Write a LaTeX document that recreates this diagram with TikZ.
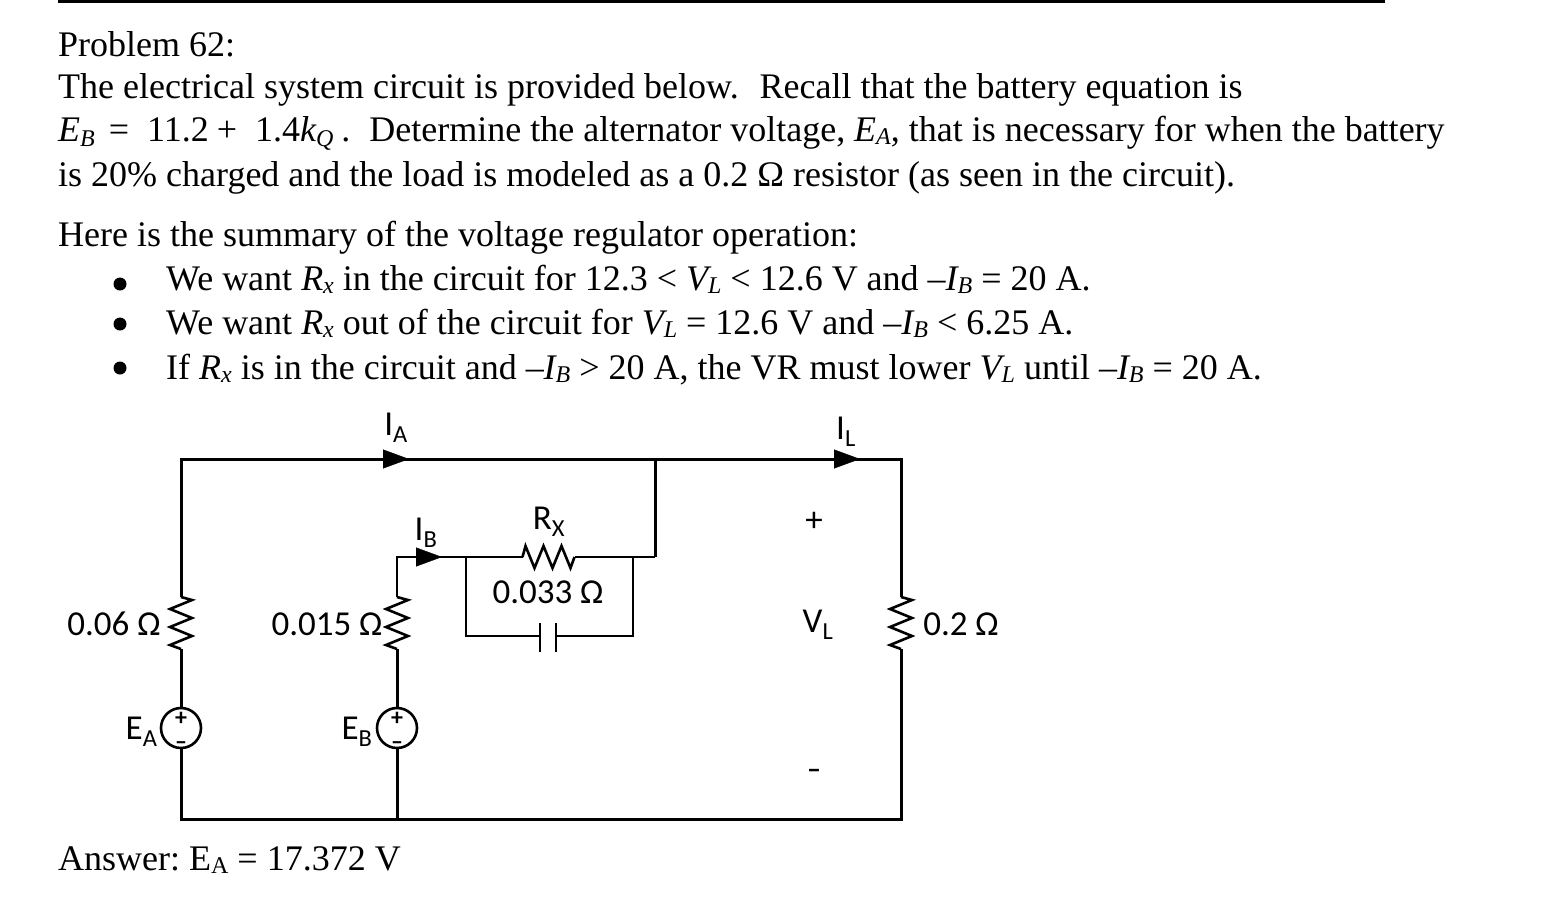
\documentclass[tikz,border=0pt]{standalone}
\usepackage{fontspec}
\setmainfont{Liberation Serif}
\newfontfamily\labelfont{Carlito}
\usetikzlibrary{arrows.meta, positioning}
\newcommand{\lowsub}[1]{\raisebox{-3pt}{\fontsize{24}{24}\selectfont #1}}
\newcommand{\RxT}{\textit{R\lowsub{x}}}
\newcommand{\VLT}{\textit{V\lowsub{L}}}
\newcommand{\IBT}{\textit{I\lowsub{B}}}
\newcommand{\EAT}{\textit{E\lowsub{A}}}

\begin{document}
\begin{tikzpicture}[
            x = 1pt, y = -1pt, % work in reference pixels
            >= {Triangle[length=26pt,width=19pt]}, % arrow head style
            node distance = 4pt,% distance between nodes
        ]
 \tikzstyle{textline}=[
            anchor = base west,
            inner sep = 0pt,
            font = \fontsize{36}{40}\selectfont
        ]
 \tikzstyle{bulletdot}=[
            shape = circle,
            fill = black,
            inner sep = 0pt,
            minimum size = 13pt
        ]
 \tikzstyle{wire}=[line width = 3pt]
 \tikzstyle{midwire}=[line width = 2.6pt]
 \tikzstyle{thinwire}=[line width = 2.2pt]
 \tikzstyle{sourcestyle}=[
            shape = circle,
            draw = black,
            line width = 2.6pt,
            fill = white,
            inner sep = 0pt,
            minimum size = 40pt
        ]
 \tikzstyle{partlabel}=[
            inner sep = 0pt,
            font = \labelfont\fontsize{35}{38}\selectfont
        ]
 \tikzstyle{signmark}=[
            anchor = base,
            inner sep = 0pt,
            font = \labelfont\bfseries\fontsize{24}{26}\selectfont
        ]
 \tikzstyle{dashmark}=[
            anchor = base,
            inner sep = 0pt,
            font = \labelfont\bfseries\fontsize{28}{30}\selectfont
        ]
\tikzset{
    pics/reszig/.style = {code = {
        \draw[midwire] (-26,0) -- (-23,-11) -- (-14,11) -- (-5,-11) -- (4,11) -- (13,-11) -- (22,11) -- (26,0);
    }}
}
\useasboundingbox (0,0) rectangle (1568,908);
% text above the circuit
\fill (58,-2) rectangle (1385,3);
\node[textline] (title) at (58,56) {Problem 62:};
\node[textline] (line1) at (58,98) {The electrical system circuit is provided below.\hspace{0.25em} Recall that the battery equation is};
\node[textline] (line2) at (58,141) {\textit{E\raisebox{-5pt}{\fontsize{24}{24}\selectfont B}}\hspace{14pt}=\hspace{18pt}11.2\hspace{8pt}+\hspace{18pt}1.4\textit{k\raisebox{-5pt}{\fontsize{24}{24}\selectfont Q}}\hspace{8pt}.\hspace{19pt}Determine the alternator voltage, \EAT, that is necessary for when the battery};
\node[textline] (line3) at (58,186) {is 20\% charged and the load is modeled as a 0.2 Ω resistor (as seen in the circuit).};
\node[textline] (here) at (58,246) {Here is the summary of the voltage regulator operation:};
\node[bulletdot] (dot1) at (120,284) {};
\node[bulletdot] (dot2) at (120,324) {};
\node[bulletdot] (dot3) at (120,368) {};
\node[textline] (item1) at (166,290) {We want \RxT\ in the circuit for 12.3 < \VLT\ < 12.6 V and –\IBT\ = 20 A.};
\node[textline] (item2) at (166,334) {We want \RxT\ out of the circuit for \VLT\ = 12.6 V and –\IBT\ < 6.25 A.};
\node[textline] (item3) at (166,379) {If \RxT\ is in the circuit and –\IBT\ > 20 A, the VR must lower \VLT\ until –\IBT\ = 20 A.};
\node[textline] (answer) at (58,870) {Answer:\ E\lowsub{A} = 17.372 V};
% corners and junctions
\coordinate (tl) at (181,459);
\coordinate (tm) at (655,459);
\coordinate (tr) at (901,459);
\coordinate (bl) at (181,819);
\coordinate (bm) at (397,819);
\coordinate (br) at (901,819);
\coordinate (ibcorner) at (397,557);
\coordinate (ibturn) at (655,557);
\coordinate (loopl) at (466,557);
\coordinate (loopr) at (633,557);
\coordinate (loopbl) at (466,636);
\coordinate (loopbr) at (633,636);
% resistor ends and centres
\coordinate (r1a) at (181,597);
\coordinate (r1m) at (181,623);
\coordinate (r1b) at (181,649);
\coordinate (r2a) at (397,597);
\coordinate (r2m) at (397,623);
\coordinate (r2b) at (397,649);
\coordinate (r3a) at (901,597);
\coordinate (r3m) at (901,623);
\coordinate (r3b) at (901,649);
\coordinate (rxa) at (522.5,557);
\coordinate (rxm) at (548.5,557);
\coordinate (rxb) at (574.5,557);
% capacitor plates
\coordinate (c1t) at (540,623);
\coordinate (c1m) at (540,636);
\coordinate (c1b) at (540,652);
\coordinate (c2t) at (556,623);
\coordinate (c2m) at (556,636);
\coordinate (c2b) at (556,652);
% arrow heads
\coordinate (iastart) at (383,459);
\coordinate (iatip) at (409,459);
\coordinate (ilstart) at (834,459);
\coordinate (iltip) at (860,459);
\coordinate (ibstart) at (415,557);
\coordinate (ibtip) at (442,557);
% sources
\node[sourcestyle] (ea) at (181,728) {};
\node[sourcestyle] (eb) at (397,728) {};
\node[signmark] (eaplus) at (181,725) {+};
\node[signmark] (eaminus) at (181,749) {–};
\node[signmark] (ebplus) at (397,725) {+};
\node[signmark] (ebminus) at (397,749) {–};
% outer loop
\draw[wire] (r1a) -- (tl) -- (tr) -- (r3a);
\draw[wire] (r3b) -- (br) -- (bl) -- (ea);
\draw[wire] (r1b) -- (ea);
\draw[wire] (r2b) -- (eb);
\draw[wire] (eb) -- (bm);
\draw[wire] (tm) -- (ibturn);
\draw[midwire] (r2a) -- (ibcorner) -- (rxa);
\draw[midwire] (rxb) -- (ibturn);
% capacitor loop
\draw[thinwire] (loopl) -- (loopbl) -- (c1m);
\draw[thinwire] (loopr) -- (loopbr) -- (c2m);
\draw[thinwire] (c1t) -- (c1b);
\draw[thinwire] (c2t) -- (c2b);
% resistors
\pic[rotate=-90] at (r1m) {reszig};
\pic[rotate=-90] at (r2m) {reszig};
\pic[rotate=-90] at (r3m) {reszig};
\pic at (rxm) {reszig};
% current arrows
\draw[->] (iastart) -- (iatip);
\draw[->] (ilstart) -- (iltip);
\draw[->] (ibstart) -- (ibtip);
% labels
\node[partlabel] (ialabel) at (396,428) {I\textsubscript{A}};
\node[partlabel] (illabel) at (846,432) {I\textsubscript{L}};
\node[partlabel] (iblabel) at (426,533) {I\textsubscript{B}};
\node[partlabel] (rxlabel) at (549,522) {R\textsubscript{X}};
\node[partlabel] (rxvalue) at (548,592) {0.033 Ω};
\node[partlabel] (r1value) at (114,624) {0.06 Ω};
\node[partlabel] (r2value) at (327,624) {0.015 Ω};
\node[partlabel] (r3value) at (961,624) {0.2 Ω};
\node[partlabel] (vllabel) at (818,625) {V\textsubscript{L}};
\node[partlabel, left=2pt of ea, yshift=-4pt] (ealabel) {E\textsubscript{A}};
\node[partlabel, left=3pt of eb, yshift=-4pt] (eblabel) {E\textsubscript{B}};
\node[partlabel] (vlplus) at (814,522) {+};
\node[dashmark] (vlminus) at (814,778) {–};
\end{tikzpicture}
\end{document}
